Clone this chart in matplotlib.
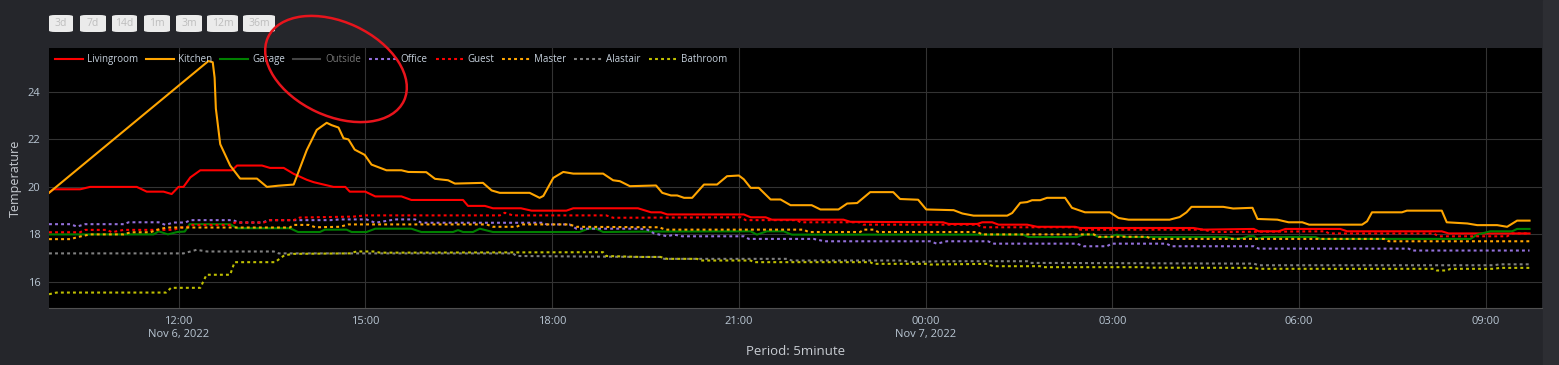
import pandas as pd
import matplotlib.pyplot as plt
from matplotlib.patches import Ellipse, Rectangle, FancyBboxPatch

plt.rcParams["font.family"] = ["Open Sans", "DejaVu Sans"]

day0 = pd.Timestamp("2022-11-06")

# Hours since Nov 6 00:00 and temperature (5 minute data)
livingroom_h = [9.92, 9.99, 10.42, 10.58, 11.33, 11.49, 11.76, 11.89, 12.0, 12.08, 12.19, 12.35,
                12.86, 12.94, 13.34, 13.47, 13.69, 13.85, 14.06, 14.17, 14.33, 14.49, 14.68, 14.75,
                15.0, 15.16, 15.58, 15.74, 16.57, 16.65, 16.92, 17.05, 17.5, 17.67, 18.23, 18.34,
                19.38, 19.59, 19.75, 19.85, 21.08, 21.19, 21.43, 21.53, 22.68, 22.79, 24.28, 24.37,
                24.83, 24.91, 25.07, 25.17, 25.63, 25.79, 26.40, 26.48, 28.30, 28.46, 29.27, 29.35,
                29.67, 29.78, 30.66, 30.77, 32.29, 32.40, 33.70]
livingroom_t = [19.75, 19.9, 19.9, 20.0, 20.0, 19.8, 19.8, 19.7, 20.0, 20.0, 20.4, 20.7,
                20.7, 20.9, 20.9, 20.8, 20.8, 20.55, 20.3, 20.2, 20.1, 20.0, 20.0, 19.8,
                19.8, 19.6, 19.6, 19.45, 19.45, 19.2, 19.2, 19.1, 19.1, 19.0, 19.0, 19.1,
                19.1, 18.93, 18.93, 18.84, 18.84, 18.72, 18.72, 18.62, 18.62, 18.53, 18.51, 18.44,
                18.44, 18.51, 18.51, 18.41, 18.41, 18.32, 18.32, 18.27, 18.27, 18.2, 18.23, 18.13,
                18.13, 18.23, 18.23, 18.13, 18.13, 18.04, 18.04]

kitchen_h = [9.92, 12.48, 12.55, 12.58, 12.60, 12.67, 12.83, 12.99, 13.26, 13.42, 13.6, 13.85,
             14.06, 14.22, 14.38, 14.46, 14.57, 14.65, 14.73, 14.83, 14.99, 15.10, 15.24, 15.34,
             15.58, 15.69, 15.98, 16.12, 16.33, 16.44, 16.89, 17.03, 17.16, 17.64, 17.80, 17.86,
             18.02, 18.18, 18.34, 18.82, 18.98, 19.09, 19.25, 19.67, 19.77, 19.91, 20.01, 20.12,
             20.25, 20.44, 20.65, 20.81, 21.0, 21.08, 21.19, 21.32, 21.51, 21.67, 21.83, 22.17,
             22.31, 22.60, 22.74, 22.90, 23.11, 23.48, 23.59, 23.88, 24.01, 24.45, 24.59, 24.77,
             25.31, 25.39, 25.52, 25.63, 25.71, 25.84, 25.95, 26.24, 26.35, 26.56, 26.96, 27.10,
             27.26, 27.92, 28.08, 28.19, 28.27, 28.78, 28.94, 29.25, 29.33, 29.65, 29.83, 30.05,
             30.16, 31.01, 31.09, 31.17, 31.65, 31.73, 32.29, 32.37, 32.70, 32.86, 33.18, 33.34,
             33.50, 33.70]
kitchen_t = [19.75, 25.3, 25.25, 24.6, 23.3, 21.8, 20.9, 20.35, 20.35, 20.0, 20.05, 20.1,
             21.55, 22.4, 22.7, 22.6, 22.5, 22.05, 22.0, 21.57, 21.35, 20.94, 20.8, 20.7,
             20.7, 20.63, 20.62, 20.34, 20.28, 20.14, 20.17, 19.85, 19.75, 19.75, 19.54, 19.62,
             20.38, 20.63, 20.56, 20.56, 20.28, 20.24, 20.03, 20.06, 19.75, 19.64, 19.64, 19.54,
             19.54, 20.1, 20.1, 20.45, 20.48, 20.32, 19.96, 19.96, 19.47, 19.47, 19.23, 19.23,
             19.05, 19.05, 19.3, 19.32, 19.78, 19.78, 19.49, 19.46, 19.05, 19.02, 18.88, 18.79,
             18.79, 18.9, 19.33, 19.36, 19.44, 19.44, 19.54, 19.54, 19.12, 18.93, 18.93, 18.69,
             18.62, 18.62, 18.73, 18.93, 19.16, 19.16, 19.09, 19.12, 18.65, 18.62, 18.51, 18.51,
             18.41, 18.41, 18.55, 18.93, 18.93, 19.0, 19.0, 18.51, 18.46, 18.39, 18.39, 18.32,
             18.58, 18.58]

garage_h = [9.92, 11.6, 11.68, 11.83, 11.98, 12.1, 12.18, 12.83, 12.94, 13.79, 13.92, 14.27,
            14.35, 14.7, 14.78, 15.02, 15.16, 15.74, 15.90, 16.41, 16.49, 16.57, 16.73, 16.84,
            17.05, 18.44, 18.58, 18.71, 18.82, 19.57, 21.19, 21.29, 21.45, 21.72, 21.85, 25.57,
            25.65, 26.43, 26.54, 26.70, 26.78, 26.96, 27.07, 27.23, 28.83, 28.97, 29.10, 29.19,
            29.27, 29.33, 29.43, 30.26, 30.34, 32.75, 32.86, 33.07, 33.42, 33.50, 33.70]
garage_t = [18.0, 18.0, 18.13, 18.0, 18.1, 18.12, 18.43, 18.43, 18.26, 18.26, 18.1, 18.1,
            18.2, 18.2, 18.1, 18.1, 18.24, 18.24, 18.1, 18.1, 18.18, 18.1, 18.1, 18.24,
            18.1, 18.1, 18.24, 18.24, 18.1, 18.12, 18.13, 17.99, 18.13, 18.13, 17.99, 17.99,
            17.89, 17.89, 17.99, 17.99, 17.89, 17.89, 17.99, 17.89, 17.89, 17.81, 17.85, 17.92,
            17.92, 17.81, 17.89, 17.89, 17.81, 17.81, 17.99, 18.13, 18.13, 18.23, 18.23]

outside_h = []
outside_t = []

office_h = [9.92, 10.26, 10.37, 10.50, 11.12, 11.20, 11.68, 11.79, 11.92, 12.11, 12.19, 12.88,
            12.96, 13.34, 13.47, 14.44, 14.59, 15.02, 15.16, 15.48, 15.80, 15.90, 17.86, 17.91,
            18.28, 18.39, 19.41, 19.53, 19.64, 19.85, 19.96, 20.09, 21.08, 21.16, 22.20, 22.38,
            24.07, 24.18, 24.34, 25.0, 25.10, 26.43, 26.54, 26.91, 26.99, 27.87, 27.95, 29.27,
            29.35, 31.76, 31.81, 33.70]
office_t = [18.43, 18.43, 18.33, 18.43, 18.43, 18.51, 18.51, 18.4, 18.5, 18.5, 18.6, 18.6,
            18.5, 18.5, 18.6, 18.6, 18.63, 18.63, 18.49, 18.63, 18.63, 18.49, 18.49, 18.42,
            18.42, 18.24, 18.24, 18.2, 18.04, 17.92, 17.99, 17.92, 17.92, 17.81, 17.81, 17.71,
            17.71, 17.61, 17.71, 17.71, 17.61, 17.61, 17.5, 17.5, 17.61, 17.61, 17.5, 17.5,
            17.4, 17.4, 17.32, 17.32]

guest_h = [9.92, 10.42, 10.50, 10.85, 10.93, 11.12, 11.92, 12.03, 12.13, 12.19, 12.83, 12.91,
           13.37, 13.47, 13.85, 13.95, 14.81, 15.0, 17.16, 17.24, 17.37, 18.87, 18.98, 21.03,
           21.11, 21.93, 21.99, 22.95, 23.0, 24.83, 24.91, 26.43, 26.48, 28.46, 28.62, 30.42,
           30.48, 32.16, 32.24, 33.34, 33.42, 33.70]
guest_t = [18.09, 18.09, 18.19, 18.19, 18.09, 18.19, 18.19, 18.29, 18.29, 18.4, 18.4, 18.5,
           18.5, 18.6, 18.6, 18.71, 18.75, 18.8, 18.8, 18.91, 18.8, 18.8, 18.7, 18.72,
           18.6, 18.6, 18.51, 18.51, 18.41, 18.41, 18.3, 18.3, 18.2, 18.2, 18.1, 18.13,
           18.04, 18.04, 17.92, 17.92, 18.04, 18.04]

master_h = [9.92, 10.26, 10.42, 10.58, 11.12, 11.23, 11.55, 11.65, 11.81, 13.79, 13.85, 14.09,
            14.20, 14.59, 14.73, 16.95, 17.05, 17.43, 17.51, 18.28, 18.39, 19.72, 19.82, 22.04,
            22.12, 22.95, 23.0, 23.16, 23.24, 24.83, 24.91, 26.70, 26.78, 27.55, 27.63, 31.36,
            31.44, 33.70]
master_t = [17.8, 17.8, 17.91, 18.0, 18.0, 18.09, 18.09, 18.19, 18.29, 18.29, 18.4, 18.4,
            18.3, 18.32, 18.42, 18.42, 18.32, 18.32, 18.42, 18.42, 18.32, 18.3, 18.2, 18.2,
            18.1, 18.1, 18.2, 18.2, 18.1, 18.1, 18.0, 18.0, 17.9, 17.9, 17.81, 17.81,
            17.71, 17.71]

alastair_h = [9.92, 12.08, 12.29, 12.46, 13.53, 13.61, 17.37, 17.43, 19.42, 19.74, 19.80, 21.77,
              21.85, 23.64, 23.75, 24.24, 25.63, 25.68, 29.06, 29.27, 29.35, 33.12, 33.23, 33.70]
alastair_t = [17.2, 17.2, 17.35, 17.28, 17.28, 17.2, 17.2, 17.09, 17.05, 17.05, 16.97, 16.97,
              16.9, 16.9, 16.83, 16.87, 16.87, 16.8, 16.77, 16.77, 16.7, 16.7, 16.74, 16.74]

bathroom_h = [9.92, 10.04, 11.80, 11.88, 12.35, 12.45, 12.83, 12.90, 13.55, 13.70, 13.85, 14.75,
              14.86, 15.13, 15.24, 18.82, 18.87, 19.42, 19.74, 19.85, 20.33, 20.39, 21.19, 21.24,
              23.11, 23.16, 24.02, 24.07, 25.0, 25.08, 25.84, 25.89, 27.50, 27.55, 29.27, 29.35,
              32.16, 32.21, 32.37, 32.43, 33.12, 33.23, 33.70]
bathroom_t = [15.48, 15.55, 15.55, 15.75, 15.75, 16.3, 16.3, 16.83, 16.83, 17.12, 17.18, 17.2,
              17.28, 17.28, 17.23, 17.25, 17.09, 17.05, 17.05, 16.97, 16.97, 16.9, 16.9, 16.83,
              16.83, 16.76, 16.76, 16.73, 16.76, 16.66, 16.66, 16.62, 16.62, 16.6, 16.59, 16.55,
              16.55, 16.48, 16.48, 16.55, 16.55, 16.59, 16.59]

names = ["Livingroom", "Kitchen", "Garage", "Outside", "Office", "Guest", "Master", "Alastair", "Bathroom"]
hours = [livingroom_h, kitchen_h, garage_h, outside_h, office_h, guest_h, master_h, alastair_h, bathroom_h]
temps = [livingroom_t, kitchen_t, garage_t, outside_t, office_t, guest_t, master_t, alastair_t, bathroom_t]
colors = ["#ff0000", "#ffa500", "#008000", "#444444", "#9370db", "#ff0000", "#ffa500", "#808080", "#bfbf00"]
dotted = [False, False, False, False, True, True, True, True, True]

range_buttons = ["3d", "7d", "14d", "1m", "3m", "12m", "36m"]
button_left = [49, 80, 112, 144, 176, 207, 243]
button_right = [73, 106, 137, 170, 202, 238, 275]

W, H = 1559, 365
fig = plt.figure(figsize=(W / 100, H / 100), dpi=100, facecolor="#25262b")
fig.patches.append(Rectangle((1543 / W, 0), 16 / W, 1, transform=fig.transFigure,
                             color="#2d2e33", zorder=-1))
ax = fig.add_axes([49 / W, 57 / H, (1542 - 49) / W, (308 - 48) / H])
ax.set_facecolor("black")

for name, h, t, c, d in zip(names, hours, temps, colors, dotted):
    x = day0 + pd.to_timedelta(h, unit="h")
    ls = (0, (1.4, 1.5)) if d else "-"
    ax.plot(x, t, color=c, lw=1.5, ls=ls, label=name)

ax.set_xlim(day0 + pd.Timedelta(hours=9.92), day0 + pd.Timedelta(hours=33.9))
ax.set_ylim(14.9, 25.85)

ticks = [day0 + pd.Timedelta(hours=hh) for hh in range(12, 34, 3)]
labels = [f"{t.hour:02d}:00" for t in ticks]
labels[0] += "\nNov 6, 2022"
labels[4] += "\nNov 7, 2022"
ax.set_xticks(ticks)
ax.set_xticklabels(labels)
ax.set_yticks([16, 18, 20, 22, 24])

tick_color = "#b9c6d3"
ax.tick_params(length=0, labelsize=8, labelcolor=tick_color, pad=6)
ax.grid(color="#333333", lw=0.8)
for s in ["top", "right", "left"]:
    ax.spines[s].set_visible(False)
ax.spines["bottom"].set_color("#505050")

ax.set_ylabel("Temperature", color="#c8ccd2", fontsize=9, labelpad=4)
ax.set_xlabel("Period: 5minute", color="#c8ccd2", fontsize=9.5, labelpad=4)

leg = ax.legend(ncol=9, loc="upper left", bbox_to_anchor=(0.0, 1.0), frameon=False,
                fontsize=7, handlelength=2.8, handletextpad=0.5, columnspacing=0.8,
                borderaxespad=0.25)
for txt, name in zip(leg.get_texts(), names):
    txt.set_color("#777777" if name == "Outside" else "#c5d0dc")

for lab, x0, x1 in zip(range_buttons, button_left, button_right):
    fig.patches.append(FancyBboxPatch((x0 / W, 1 - 32 / H), (x1 - x0) / W, 17 / H,
                                      boxstyle="round,pad=0,rounding_size=0.004",
                                      transform=fig.transFigure, fc="#ebebeb", ec="none"))
    fig.text((x0 + x1) / 2 / W, 1 - 23.5 / H, lab, ha="center", va="center",
             fontsize=7.5, color="#bdbdbd")

# red hand-drawn mark around the missing "Outside" series
fig.patches.append(Ellipse((3.36, (H - 69) / 100), 1.5, 0.94, angle=-25,
                           transform=fig.dpi_scale_trans, fill=False, ec="#e8141c", lw=1.8))

fig.savefig("out.png", dpi=100, facecolor=fig.get_facecolor())
